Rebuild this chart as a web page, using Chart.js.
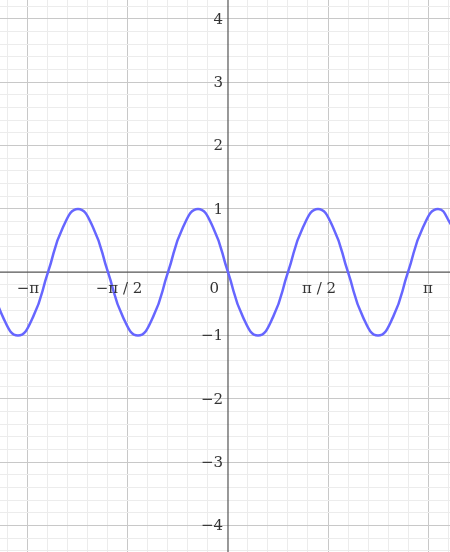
<!DOCTYPE html>
<html>
<head>
<meta charset="utf-8">
<script src="https://cdn.jsdelivr.net/npm/chart.js@4"></script>
<style>
  html, body { margin:0; padding:0; background:#fff; }
  #wrap { width:450px; height:552px; }
</style>
</head>
<body>
<div id="wrap"><canvas id="graf"></canvas></div>
<script>
const xVals = [-3.770,-3.534,-3.299,-3.063,-2.827,-2.592,-2.356,-2.121,-1.885,-1.649,-1.414,-1.178,-0.942,-0.707,-0.471,-0.236,
  0,0.236,0.471,0.707,0.942,1.178,1.414,1.649,1.885,2.121,2.356,2.592,2.827,3.063,3.299,3.534];
const yVals = [0,-0.71,-1,-0.71,0,0.71,1,0.71, 0,-0.71,-1,-0.71,0,0.71,1,0.71,
  0,-0.71,-1,-0.71,0,0.71,1,0.71, 0,-0.71,-1,-0.71,0,0.71,1,0.71];
const xTickVals = [-Math.PI, -Math.PI/2, Math.PI/2, Math.PI];
const xTickLabels = ["\u2212\u03c0", "\u2212\u03c0 / 2", "\u03c0 / 2", "\u03c0"];
const yTickVals = [-4,-3,-2,-1,1,2,3,4];
const yTickLabels = ["\u22124","\u22123","\u22122","\u22121","1","2","3","4"];

const puntos = xVals.map((x,i)=>({x:x, y:yVals[i]}));

const ejes = {
  id:"ejes",
  beforeDatasetsDraw(chart){
    const ctx = chart.ctx, xs = chart.scales.x, ys = chart.scales.y;
    const x0 = xs.getPixelForValue(0), y0 = ys.getPixelForValue(0);
    ctx.save();
    ctx.strokeStyle = "#555"; ctx.lineWidth = 1.2;
    ctx.beginPath();
    ctx.moveTo(0, y0); ctx.lineTo(chart.width, y0);
    ctx.moveTo(x0, 0); ctx.lineTo(x0, chart.height);
    ctx.stroke();
    ctx.restore();
  },
  afterDatasetsDraw(chart){
    const ctx = chart.ctx, xs = chart.scales.x, ys = chart.scales.y;
    const x0 = xs.getPixelForValue(0), y0 = ys.getPixelForValue(0);
    ctx.save();
    ctx.font = "15px 'DejaVu Serif', serif";
    ctx.fillStyle = "#333";
    ctx.textBaseline = "top";
    ctx.textAlign = "center";
    xTickVals.forEach((v,i)=>{
      const off = Math.abs(Math.abs(v)-Math.PI/2) < 0.01 ? -9 : 0;
      ctx.fillText(xTickLabels[i], xs.getPixelForValue(v)+off, y0+9);
    });
    ctx.textAlign = "right";
    ctx.fillText("0", x0-9, y0+9);
    ctx.textBaseline = "middle";
    yTickVals.forEach((v,i)=>{
      ctx.fillText(yTickLabels[i], x0-5, ys.getPixelForValue(v)+1);
    });
    ctx.restore();
  }
};

function gridColor(c){
  return Math.abs(c.tick.value) < 1e-9 ? "rgba(0,0,0,0)" : (c.tick.major5 ? "#c8c8c8" : "#ececec");
}

new Chart(document.getElementById("graf"), {
  type:"line",
  data:{ datasets:[{
    data:puntos,
    borderColor:"#6666ff",
    borderWidth:2.5,
    pointRadius:0,
    tension:0.5,
    fill:false
  }]},
  options:{
    responsive:true,
    maintainAspectRatio:false,
    animation:false,
    layout:{ padding:0 },
    plugins:{ legend:{ display:false }, tooltip:{ enabled:false } },
    scales:{
      x:{
        type:"linear", min:-3.581, max:3.487,
        border:{ display:false },
        ticks:{ display:false },
        afterBuildTicks(s){
          const t = [];
          for(let k=-12;k<=12;k++) t.push({value:k*Math.PI/10, major5:k%5===0});
          s.ticks = t;
        },
        grid:{ color:gridColor, drawTicks:false, lineWidth:1 }
      },
      y:{
        type:"linear", min:-4.42, max:4.30,
        border:{ display:false },
        ticks:{ display:false },
        afterBuildTicks(s){
          const t = [];
          for(let k=-23;k<=22;k++) t.push({value:k*0.2, major5:k%5===0});
          s.ticks = t;
        },
        grid:{ color:gridColor, drawTicks:false, lineWidth:1 }
      }
    }
  },
  plugins:[ejes]
});
</script>
</body>
</html>
